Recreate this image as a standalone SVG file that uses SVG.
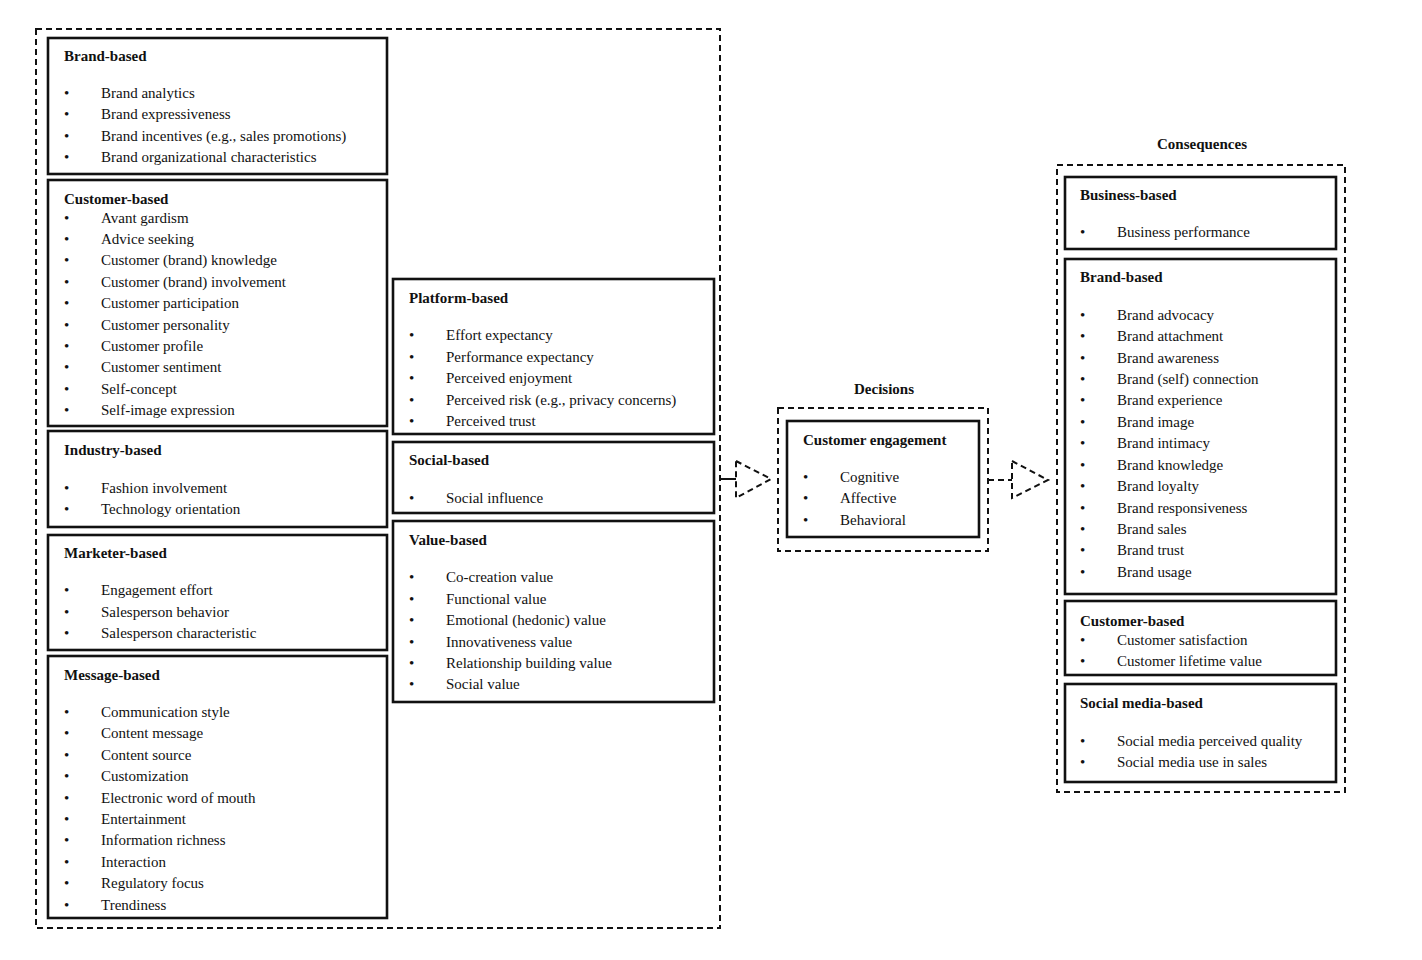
<svg xmlns="http://www.w3.org/2000/svg" width="1422" height="960" viewBox="0 0 1422 960">
<style>
text{font-family:"Liberation Serif","DejaVu Serif",serif;font-size:15px;fill:#111}
.t{font-weight:bold}
.b{stroke:#111;stroke-width:2.6;fill:none}
.d{stroke:#111;stroke-width:2;fill:none;stroke-dasharray:6,4}
</style>
<rect width="1422" height="960" fill="#fff"/>
<g id="antecedents">
<rect class="d" x="36" y="29" width="684" height="899"/>
</g>
<g id="brand-based">
<rect class="b" x="48" y="38" width="339" height="136"/>
<text class="t" x="64" y="61">Brand-based</text>
<text x="64" y="98">•</text><text x="101" y="98">Brand analytics</text>
<text x="64" y="119">•</text><text x="101" y="119">Brand expressiveness</text>
<text x="64" y="141">•</text><text x="101" y="141">Brand incentives (e.g., sales promotions)</text>
<text x="64" y="162">•</text><text x="101" y="162">Brand organizational characteristics</text>
</g>
<g id="customer-based">
<rect class="b" x="48" y="180" width="339" height="246"/>
<text class="t" x="64" y="204">Customer-based</text>
<text x="64" y="223">•</text><text x="101" y="223">Avant gardism</text>
<text x="64" y="244">•</text><text x="101" y="244">Advice seeking</text>
<text x="64" y="265">•</text><text x="101" y="265">Customer (brand) knowledge</text>
<text x="64" y="287">•</text><text x="101" y="287">Customer (brand) involvement</text>
<text x="64" y="308">•</text><text x="101" y="308">Customer participation</text>
<text x="64" y="330">•</text><text x="101" y="330">Customer personality</text>
<text x="64" y="351">•</text><text x="101" y="351">Customer profile</text>
<text x="64" y="372">•</text><text x="101" y="372">Customer sentiment</text>
<text x="64" y="394">•</text><text x="101" y="394">Self-concept</text>
<text x="64" y="415">•</text><text x="101" y="415">Self-image expression</text>
</g>
<g id="industry-based">
<rect class="b" x="48" y="431" width="339" height="96"/>
<text class="t" x="64" y="455">Industry-based</text>
<text x="64" y="493">•</text><text x="101" y="493">Fashion involvement</text>
<text x="64" y="514">•</text><text x="101" y="514">Technology orientation</text>
</g>
<g id="marketer-based">
<rect class="b" x="48" y="535" width="339" height="115"/>
<text class="t" x="64" y="558">Marketer-based</text>
<text x="64" y="595">•</text><text x="101" y="595">Engagement effort</text>
<text x="64" y="617">•</text><text x="101" y="617">Salesperson behavior</text>
<text x="64" y="638">•</text><text x="101" y="638">Salesperson characteristic</text>
</g>
<g id="message-based">
<rect class="b" x="48" y="656" width="339" height="262"/>
<text class="t" x="64" y="680">Message-based</text>
<text x="64" y="717">•</text><text x="101" y="717">Communication style</text>
<text x="64" y="738">•</text><text x="101" y="738">Content message</text>
<text x="64" y="760">•</text><text x="101" y="760">Content source</text>
<text x="64" y="781">•</text><text x="101" y="781">Customization</text>
<text x="64" y="803">•</text><text x="101" y="803">Electronic word of mouth</text>
<text x="64" y="824">•</text><text x="101" y="824">Entertainment</text>
<text x="64" y="845">•</text><text x="101" y="845">Information richness</text>
<text x="64" y="867">•</text><text x="101" y="867">Interaction</text>
<text x="64" y="888">•</text><text x="101" y="888">Regulatory focus</text>
<text x="64" y="910">•</text><text x="101" y="910">Trendiness</text>
</g>
<g id="platform-based">
<rect class="b" x="393" y="279" width="321" height="155"/>
<text class="t" x="409" y="303">Platform-based</text>
<text x="409" y="340">•</text><text x="446" y="340">Effort expectancy</text>
<text x="409" y="362">•</text><text x="446" y="362">Performance expectancy</text>
<text x="409" y="383">•</text><text x="446" y="383">Perceived enjoyment</text>
<text x="409" y="405">•</text><text x="446" y="405">Perceived risk (e.g., privacy concerns)</text>
<text x="409" y="426">•</text><text x="446" y="426">Perceived trust</text>
</g>
<g id="social-based">
<rect class="b" x="393" y="442" width="321" height="71"/>
<text class="t" x="409" y="465">Social-based</text>
<text x="409" y="503">•</text><text x="446" y="503">Social influence</text>
</g>
<g id="value-based">
<rect class="b" x="393" y="521" width="321" height="181"/>
<text class="t" x="409" y="545">Value-based</text>
<text x="409" y="582">•</text><text x="446" y="582">Co-creation value</text>
<text x="409" y="604">•</text><text x="446" y="604">Functional value</text>
<text x="409" y="625">•</text><text x="446" y="625">Emotional (hedonic) value</text>
<text x="409" y="647">•</text><text x="446" y="647">Innovativeness value</text>
<text x="409" y="668">•</text><text x="446" y="668">Relationship building value</text>
<text x="409" y="689">•</text><text x="446" y="689">Social value</text>
</g>
<g id="decisions">
<text class="t" x="884" y="394" text-anchor="middle">Decisions</text>
<rect class="d" x="778" y="408" width="210" height="143"/>
<rect class="b" x="787" y="421" width="192" height="116"/>
<text class="t" x="803" y="445">Customer engagement</text>
<text x="803" y="482">•</text><text x="840" y="482">Cognitive</text>
<text x="803" y="503">•</text><text x="840" y="503">Affective</text>
<text x="803" y="525">•</text><text x="840" y="525">Behavioral</text>
</g>
<g id="consequences">
<text class="t" x="1202" y="149" text-anchor="middle">Consequences</text>
<rect class="d" x="1057" y="165" width="288" height="627"/>
</g>
<g id="business-based">
<rect class="b" x="1065" y="177" width="271" height="72"/>
<text class="t" x="1080" y="200">Business-based</text>
<text x="1080" y="237">•</text><text x="1117" y="237">Business performance</text>
</g>
<g id="brand-based-c">
<rect class="b" x="1065" y="259" width="271" height="335"/>
<text class="t" x="1080" y="282">Brand-based</text>
<text x="1080" y="320">•</text><text x="1117" y="320">Brand advocacy</text>
<text x="1080" y="341">•</text><text x="1117" y="341">Brand attachment</text>
<text x="1080" y="363">•</text><text x="1117" y="363">Brand awareness</text>
<text x="1080" y="384">•</text><text x="1117" y="384">Brand (self) connection</text>
<text x="1080" y="405">•</text><text x="1117" y="405">Brand experience</text>
<text x="1080" y="427">•</text><text x="1117" y="427">Brand image</text>
<text x="1080" y="448">•</text><text x="1117" y="448">Brand intimacy</text>
<text x="1080" y="470">•</text><text x="1117" y="470">Brand knowledge</text>
<text x="1080" y="491">•</text><text x="1117" y="491">Brand loyalty</text>
<text x="1080" y="513">•</text><text x="1117" y="513">Brand responsiveness</text>
<text x="1080" y="534">•</text><text x="1117" y="534">Brand sales</text>
<text x="1080" y="555">•</text><text x="1117" y="555">Brand trust</text>
<text x="1080" y="577">•</text><text x="1117" y="577">Brand usage</text>
</g>
<g id="customer-based-c">
<rect class="b" x="1065" y="601" width="271" height="74"/>
<text class="t" x="1080" y="626">Customer-based</text>
<text x="1080" y="645">•</text><text x="1117" y="645">Customer satisfaction</text>
<text x="1080" y="666">•</text><text x="1117" y="666">Customer lifetime value</text>
</g>
<g id="social-media-based">
<rect class="b" x="1065" y="684" width="271" height="98"/>
<text class="t" x="1080" y="708">Social media-based</text>
<text x="1080" y="746">•</text><text x="1117" y="746">Social media perceived quality</text>
<text x="1080" y="767">•</text><text x="1117" y="767">Social media use in sales</text>
</g>
<g id="connectors">
<path d="M720 479 H736" stroke="#111" stroke-width="2" fill="none"/>
<path class="d" d="M736 461 L771 479 L736 498 Z" stroke-dasharray="5,4"/>
<path class="d" d="M988 480 H1012" stroke-dasharray="5,4"/>
<path class="d" d="M1012 461 L1048 480 L1012 498 Z" stroke-dasharray="5,4"/>
</g>
</svg>
